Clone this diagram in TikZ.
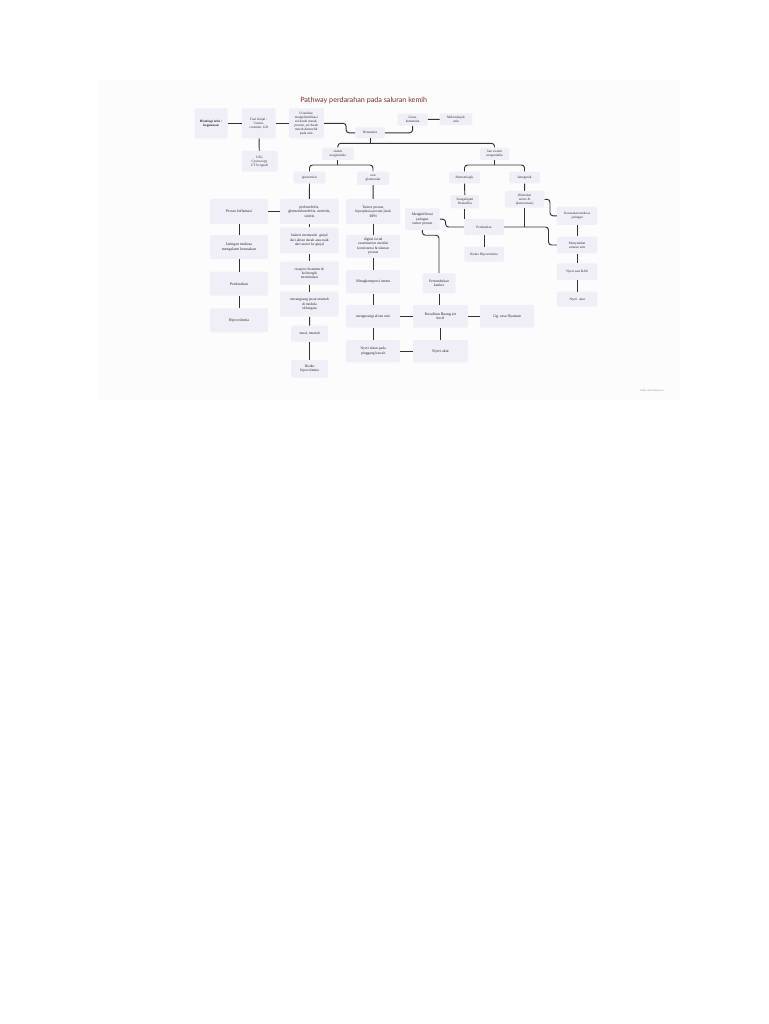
\documentclass[tikz,border=0pt]{standalone}
\usepackage{fontspec}
\setmainfont{Liberation Serif}
\newfontfamily\titlefont{Lato}
\definecolor{boxfill}{HTML}{F0EFF8}
\definecolor{linecol}{HTML}{333333}
\definecolor{txtcol}{HTML}{2A2A2A}
\definecolor{titlecol}{HTML}{7A2E2E}
\begin{document}
\begin{tikzpicture}[x=1pt,y=-1pt,
  bx/.style 2 args={draw=none, fill=boxfill, rounded corners=1.2pt, minimum width=#1, minimum height=#2,
     inner sep=0.5pt, align=center, text=txtcol, font=\fontsize{3.4}{4}\selectfont},
  conn/.style={draw=linecol, line width=0.95pt, rounded corners=3pt}]
\useasboundingbox (0,0) rectangle (768,1024);
\fill[black!1.2] (97,80) rectangle (680,400);

\node[text=titlecol, font=\titlefont\fontsize{7.2}{8}\selectfont] (title) at (363.7,100.7) {Pathway perdarahan pada saluran kemih};

% top row
\node[bx={33}{30}, font=\bfseries\fontsize{3.4}{4}\selectfont] (hist) at (211,123.3) {Histologi urin :\\keganasan};
\node[bx={34}{30}] (faal) at (258.7,123.3) {Faal Ginjal :\\Ureum,\\creatinin, GD};
\node[bx={35}{30}] (urin) at (306.3,123.3) {Urinalisis:\\mengidentifikasi\\sel darah merah,\\protein, sel darah\\merah dismorfik\\pada urin};
\node[bx={36}{20.7}] (usg) at (259.5,161.3) {USG\\Cystoscopy\\CT Urografi};
\node[bx={29.5}{11}] (hema) at (370,132.8) {Hematuria};
\node[bx={30}{12.4}] (gross) at (412.6,119.5) {Gross\\hematuria};
\node[bx={32.6}{11.7}] (mikro) at (456,119.2) {Mikroskopik\\urin};

% second level
\node[bx={31.5}{12.3}] (sisU) at (337.8,153.8) {sistem\\urogenitalia};
\node[bx={29}{12.3}] (luar) at (494.5,153.8) {luar sistem\\urogenitalia};
\node[bx={32}{11.7}] (glom) at (309.5,177.5) {glomerular};
\node[bx={32}{13.3}] (nonglom) at (373,178.3) {non\\glomerular};
\node[bx={31}{11.7}] (hemato) at (464.5,177.5) {Hematologik};
\node[bx={31}{11.7}] (iatro) at (524.5,177.5) {Iatrogenik};

% left column
\node[bx={58}{25}, font=\fontsize{3.9}{4.5}\selectfont] (proses) at (239,211.5) {Proses Inflamasi};
\node[bx={58}{24}, font=\fontsize{3.9}{4.5}\selectfont] (jar) at (239,247) {Jaringan mukosa\\mengalami kerusakan};
\node[bx={58}{24}, font=\fontsize{3.9}{4.5}\selectfont] (perd1) at (239,283.7) {Perdarahan};
\node[bx={58}{24}, font=\fontsize{3.9}{4.5}\selectfont] (hipo) at (239,320.3) {Hipovolemia};

% glomerular column
\node[bx={58.4}{25}, font=\fontsize{3.9}{4.5}\selectfont] (piel) at (309.4,211.5) {pielonefritis,\\glomerulonefritis, uretritis,\\sistitis};
\node[bx={58.4}{25.7}, font=\fontsize{3.7}{4.4}\selectfont] (bakt) at (309.4,240.5) {bakteri memasuki\ \ ginjal\\dari aliran darah atau naik\\dari ureter ke ginjal};
\node[bx={58.4}{23.3}, font=\fontsize{3.7}{4.4}\selectfont] (resep) at (309.4,273.3) {reseptor histamin \&\\kolinergik\\terstimulasi};
\node[bx={58.4}{25}, font=\fontsize{3.7}{4.4}\selectfont] (meran) at (309.4,304.2) {merangsang pusat muntah\\di medula\\oblongata};
\node[bx={37}{16}, font=\fontsize{3.7}{4.4}\selectfont] (mual) at (309.7,333.7) {mual, muntah};
\node[bx={37}{17.7}, font=\fontsize{3.7}{4.4}\selectfont] (risk1) at (309.7,368.8) {Risiko\\hipovolemia};

% non glomerular column
\node[bx={54}{25}, font=\fontsize{3.7}{4.4}\selectfont] (tumor) at (373.2,211.5) {Tumor prostat,\\hiperplasia prostat jinak\\BPH};
\node[bx={54}{22.7}, font=\fontsize{3.7}{4.4}\selectfont] (dre) at (373.2,246.3) {digital rectal\\examination menilai\\konsistensi \& ukuran\\prostat};
\node[bx={54}{23.3}, font=\fontsize{3.9}{4.5}\selectfont] (komp) at (373.2,281.7) {Mengkompresi uretra};
\node[bx={54}{22.7}, font=\fontsize{3.7}{4.4}\selectfont] (kurang) at (373.2,316.3) {mengurangi aliran urin};
\node[bx={54}{22.3}, font=\fontsize{3.7}{4.4}\selectfont] (nyeriT) at (373.2,351.2) {Nyeri tekan pada\\pinggang bawah};

% middle column
\node[bx={34.6}{21.7}, font=\fontsize{3.7}{4.4}\selectfont] (infil) at (422.4,219.2) {Menginfiltrasi\\jaringan\\tumor prostat};
\node[bx={33}{20}, font=\fontsize{3.7}{4.4}\selectfont] (tumbuh) at (439,283.3) {Pertumbuhan\\kanker};
\node[bx={55}{22.7}, font=\fontsize{3.9}{4.5}\selectfont] (sulit) at (440.5,316.3) {Kesulitan Buang air\\kecil};
\node[bx={54}{22.7}, font=\fontsize{3.9}{4.5}\selectfont] (gg) at (507,316.3) {Gg. rasa Nyaman};
\node[bx={55}{22.3}, font=\fontsize{3.9}{4.5}\selectfont] (akut1) at (440.5,351.2) {Nyeri akut};

% hematologik / iatrogenik
\node[bx={28.5}{13.3}] (koag) at (464.9,201.7) {Koagulopati\\Hemofilia};
\node[bx={39.5}{16}] (perd2) at (484,227) {Perdarahan};
\node[bx={39.5}{15}] (risk2) at (484,254.2) {Risiko Hipovolemia};
\node[bx={39.5}{16.7}] (obst) at (524.6,199.3) {Obstruksi\\ureter \&\\(kateterisasi)};
\node[bx={40.5}{18.3}] (kerus) at (577.2,215.8) {Kerusakan mukosa\\jaringan};
\node[bx={40.5}{16.7}] (nyumbat) at (577.2,245) {Menyumbat\\saluran urin};
\node[bx={40.5}{16.7}] (nyeriB) at (577.2,271.7) {Nyeri saat BAK};
\node[bx={40.5}{15}] (akut2) at (577.2,299.2) {Nyeri\ \ akut};

\node[text=black!45, font=\fontsize{2.6}{3}\selectfont] (footer) at (652,391) {Made with Whimsical};

% connectors
\draw[conn] (hist) -- (faal);
\draw[conn] (faal) -- (urin);
\draw[conn] (faal) -- (usg);
\draw[conn] (urin.east) -- (346.1,123.3) |- (hema.west);
\draw[conn] (hema.east) -| (gross.south);
\draw[conn] (gross) -- (mikro);
\draw[conn] (hema.south) -- (370,143.3);
\draw[conn] (sisU.north) |- (370,143.3) -| (luar.north);
\draw[conn] (sisU.south) -- (337.8,165);
\draw[conn] (glom.north) |- (337.8,165) -| (nonglom.north);
\draw[conn] (luar.south) -- (494.5,165);
\draw[conn] (hemato.north) |- (494.5,165) -| (iatro.north);

\draw[conn] (glom) -- (piel);
\draw[conn] (proses) -- (piel);
\draw[conn] (proses) -- (jar);
\draw[conn] (jar) -- (perd1);
\draw[conn] (perd1) -- (hipo);
\draw[conn] (piel) -- (bakt);
\draw[conn] (bakt) -- (resep);
\draw[conn] (resep) -- (meran);
\draw[conn] (meran) -- (mual);
\draw[conn] (mual) -- (risk1);

\draw[conn] (nonglom) -- (tumor);
\draw[conn] (tumor) -- (dre);
\draw[conn] (dre) -- (komp);
\draw[conn] (komp) -- (kurang);
\draw[conn] (kurang) -- (nyeriT);
\draw[conn] (kurang) -- (sulit);
\draw[conn] (sulit) -- (gg);
\draw[conn] (sulit) -- (akut1);
\draw[conn] (nyeriT) -- (akut1);
\draw[conn] (tumbuh.south) -- (tumbuh.south |- sulit.north);
\draw[conn] (infil.south) -- ++(0,5) -| (tumbuh.north);
\draw[conn] (infil.east) -- (445.6,219.2) |- (perd2.west);

\draw[conn] (hemato) -- (koag);
\draw[conn] (koag.south) -- (koag.south |- perd2.north);
\draw[conn] (perd2) -- (risk2);
\draw[conn] (perd2.east) -- (548.5,227) |- (nyumbat.west);
\draw[conn] (iatro) -- (obst);
\draw[conn] (obst.south) -- (obst.south |- perd2.east);
\draw[conn] (obst.east) -- (550,199.3) |- (kerus.west);
\draw[conn] (kerus) -- (nyumbat);
\draw[conn] (nyumbat) -- (nyeriB);
\draw[conn] (nyeriB) -- (akut2);
\end{tikzpicture}
\end{document}
